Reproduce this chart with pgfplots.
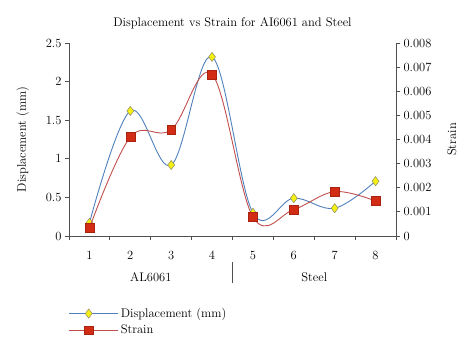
\documentclass[border=0pt]{standalone}
\usepackage{pgfplots}
\pgfplotsset{compat=1.18}
\definecolor{dblue}{RGB}{79,129,189}
\definecolor{sred}{RGB}{192,80,77}
\definecolor{sqred}{RGB}{210,45,20}
\definecolor{dyel}{RGB}{245,240,20}
\definecolor{axgray}{RGB}{80,80,80}
\pgfplotstableread{
x disp
1 0.17
2 1.62
3 0.92
4 2.32
5 0.30
6 0.49
7 0.36
8 0.71
}\disptab
\pgfplotstableread{
x strain
1 0.00033
2 0.0041
3 0.0044
4 0.0067
5 0.00079
6 0.0011
7 0.00184
8 0.00145
}\straintab
\begin{document}
\begin{tikzpicture}[x=1pt,y=1pt]
\path[use as bounding box] (0,0) rectangle (474,353);
\pgfplotsset{
  common/.style={
    at={(69pt,117pt)}, anchor=south west,
    scale only axis, width=327pt, height=193pt,
    xmin=0.5, xmax=8.5,
    axis line style={axgray, line width=0.8pt},
    every tick/.style={axgray, line width=0.8pt},
    tick align=outside,
    major tick length=4pt,
    tick label style={font=\fontsize{12.5}{14}\selectfont, black},
    label style={font=\fontsize{12.5}{14}\selectfont},
    /pgf/number format/assume math mode=true,
    clip=false,
  },
  disp/.style={dblue, line width=0.9pt, smooth, tension=0.6, mark=diamond*, mark size=4.6pt,
    mark options={fill=dyel, draw=gray!70!olive, line width=0.5pt}},
  strn/.style={sred, line width=0.9pt, smooth, tension=0.6, mark=square*, mark size=4.4pt,
    mark options={fill=sqred, draw=sqred!80!black, line width=0.4pt}},
}
\begin{axis}[common,
  axis x line*=bottom, axis y line*=left,
  ymin=0, ymax=2.5, ytick={0,0.5,...,2.5},
  xtick={0.5,1.5,...,8.5}, xticklabels={},
  extra x ticks={1,2,...,8},
  extra x tick labels={1,2,3,4,5,6,7,8},
  extra x tick style={major tick length=0pt, tick label style={yshift=-12pt}},
  ylabel={Displacement (mm)},
  ylabel style={yshift=10pt},
  legend style={at={(axis description cs:-0.01,-0.352)}, anchor=north west, draw=none, fill=none,
    font=\fontsize{12.5}{14}\selectfont, row sep=2pt},
  legend cell align=left,
  legend image code/.code={\path (0cm,0cm) -- (1.72cm,0cm);\draw[mark repeat=2,mark phase=2,#1] plot coordinates {(0cm,0cm) (0.68cm,0cm) (1.36cm,0cm)};},
]
\addplot[disp] table[x=x,y=disp] {\disptab};
\addlegendentry{Displacement (mm)}
\addlegendimage{strn}
\addlegendentry{Strain}
\draw[axgray, line width=0.8pt] (axis cs:4.5,-0.34) -- (axis cs:4.5,-0.61);
\node[font=\fontsize{12.5}{14}\selectfont] at (axis cs:2.5,-0.53) {AL6061};
\node[font=\fontsize{12.5}{14}\selectfont] at (axis cs:6.5,-0.53) {Steel};
\node[font=\fontsize{12.5}{14}\selectfont, anchor=base] at (axis description cs:0.5,1.085) {Displacement vs Strain for AI6061 and Steel};
\end{axis}
\begin{axis}[common,
  axis x line=none, axis y line*=right,
  ymin=0, ymax=0.008, ytick={0,0.001,...,0.008},
  scaled y ticks=false,
  yticklabel style={/pgf/number format/fixed, /pgf/number format/precision=3},
  ylabel={Strain},
  ylabel style={yshift=-9pt},
]
\addplot[strn] table[x=x,y=strain] {\straintab};
\end{axis}
\end{tikzpicture}
\end{document}
